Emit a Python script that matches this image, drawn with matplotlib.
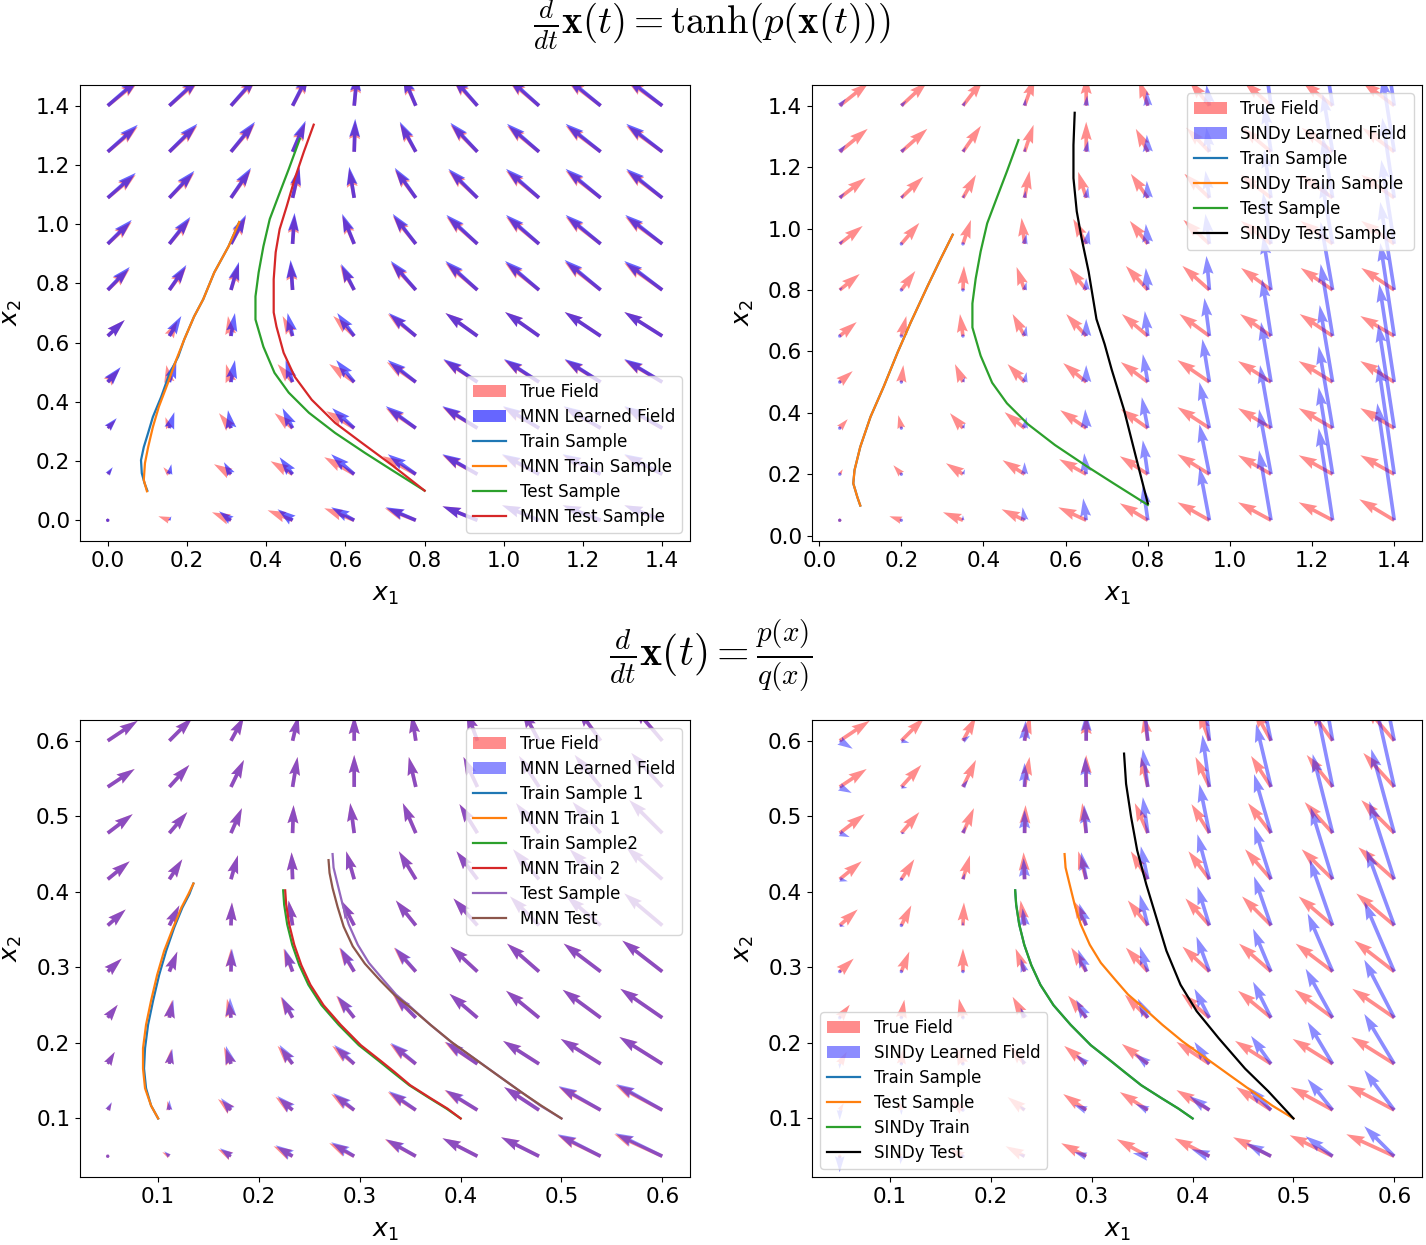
import numpy as np
import matplotlib
matplotlib.use("Agg")
import matplotlib.pyplot as plt

# ---------------- grids ----------------
TL_X = np.linspace(0.0, 1.4, 10)
TL_Y = np.linspace(1.4, 0.0, 10)
TR_X = np.linspace(0.05, 1.4, 10)
TR_Y = np.linspace(1.4, 0.05, 10)
B_X = np.linspace(0.05, 0.6, 10)
B_Y = np.linspace(0.6, 0.05, 10)

# ---------------- vector fields (u, v), rows top -> bottom, arbitrary units ----------------
TANH_TRUE_A = [
    [(31, 25), (30, 26), (26, 28), (16, 30), (3, 31), (-13, 29), (-25, 27), (-31, 26), (-34, 26), (-36, 26)],
    [(30, 25), (28, 26), (24, 28), (13, 29), (1, 31), (-16, 28), (-27, 27), (-32, 26), (-35, 26), (-36, 26)],
    [(28, 23), (25, 25), (20, 28), (7, 29), (-5, 29), (-21, 28), (-29, 27), (-33, 27), (-35, 27), (-36, 27)],
    [(24, 22), (21, 25), (15, 27), (2, 29), (-12, 28), (-23, 28), (-31, 27), (-33, 27), (-35, 27), (-37, 27)],
    [(22, 21), (17, 23), (8, 26), (-2, 28), (-14, 25), (-25, 27), (-32, 27), (-34, 27), (-36, 28), (-38, 27)],
    [(17, 16), (8, 15), (-3, 20), (-10, 20), (-21, 20), (-28, 22), (-32, 23), (-34, 24), (-36, 24), (-38, 24)],
    [(12, 13), (-3, 17), (-5, 18), (-15, 18), (-25, 18), (-29, 20), (-34, 22), (-35, 22), (-36, 22), (-38, 22)],
    [(8, 8), (-4, 11), (-12, 15), (-18, 15), (-28, 17), (-30, 20), (-35, 21), (-36, 21), (-37, 21), (-38, 21)],
    [(4, 5), (-6, 7), (-17, 10), (-22, 13), (-30, 17), (-33, 18), (-35, 19), (-37, 19), (-38, 19), (-38, 19)],
    [(1, 0.5), (-11, 4), (-19, 8), (-25, 10), (-30, 12), (-31, 12), (-35, 14), (-37, 15), (-38, 15), (-38, 15)],
]
MNN_A = [
    [(31, 27), (30, 28), (26, 30), (16, 32), (3, 33), (-13, 31), (-25, 29), (-31, 28), (-34, 28), (-36, 28)],
    [(30, 27), (28, 28), (24, 30), (13, 31), (1, 33), (-16, 30), (-27, 29), (-32, 28), (-35, 28), (-36, 28)],
    [(28, 25), (25, 27), (20, 30), (7, 31), (-5, 31), (-21, 30), (-29, 29), (-33, 29), (-35, 29), (-36, 29)],
    [(24, 24), (21, 27), (15, 29), (2, 31), (-12, 30), (-23, 30), (-31, 29), (-33, 29), (-35, 29), (-37, 29)],
    [(22, 23), (17, 25), (8, 28), (-2, 30), (-13, 26), (-25, 29), (-32, 29), (-34, 29), (-36, 30), (-38, 29)],
    [(17, 16), (12, 20), (4, 23), (-5, 23), (-17, 23), (-27, 23), (-32, 23), (-34, 24), (-36, 24), (-38, 24)],
    [(13, 15), (7, 22), (4, 22), (-7, 22), (-18, 22), (-28, 22), (-34, 23), (-35, 23), (-36, 23), (-38, 23)],
    [(9, 10), (5, 16), (-3, 18), (-10, 20), (-22, 20), (-30, 22), (-35, 22), (-36, 22), (-37, 22), (-38, 22)],
    [(5, 7), (2, 10), (-7, 12), (-13, 17), (-23, 20), (-28, 20), (-35, 20), (-37, 20), (-38, 20), (-38, 20)],
    [(1.5, 1), (2, 4), (-12, 9), (-15, 11), (-23, 13), (-30, 13), (-35, 14), (-37, 15), (-38, 15), (-38, 15)],
]
TANH_TRUE_B = [
    [(29, 23), (26, 24), (20, 26), (10, 28), (0, 30), (-9, 26), (-20, 25), (-27, 24), (-30, 24), (-32, 24)],
    [(28, 23), (26, 23), (18, 26), (9, 27), (0, 30), (-12, 23), (-23, 24), (-29, 24), (-31, 24), (-32, 24)],
    [(26, 20), (22, 21), (13, 23), (5, 27), (-8, 26), (-17, 24), (-25, 24), (-30, 23), (-32, 23), (-33, 23)],
    [(23, 18), (18, 21), (8, 24), (-3, 26), (-13, 25), (-18, 23), (-26, 24), (-30, 23), (-32, 23), (-33, 23)],
    [(20, 16), (14, 19), (1, 24), (-8, 23), (-17, 22), (-22, 24), (-27, 24), (-30, 22), (-32, 22), (-33, 22)],
    [(17, 14), (5, 20), (-3, 22), (-12, 22), (-20, 22), (-26, 22), (-30, 22), (-31, 22), (-33, 22), (-34, 20)],
    [(13, 11), (2, 17), (-8, 18), (-17, 18), (-23, 19), (-27, 20), (-32, 22), (-33, 21), (-34, 21), (-34, 21)],
    [(8, 9), (-3, 13), (-13, 15), (-20, 16), (-26, 18), (-27, 19), (-32, 21), (-33, 20), (-34, 20), (-34, 20)],
    [(3, 5), (-8, 9), (-17, 11), (-22, 14), (-27, 15), (-28, 18), (-32, 20), (-33, 19), (-34, 19), (-34, 19)],
    [(0.5, 0.5), (-12, 4), (-20, 8), (-23, 11), (-28, 13), (-28, 17), (-32, 18), (-33, 18), (-34, 18), (-35, 21)],
]
SINDY_A = [
    [(6, 7), (5, 5), (3, 5), (1, 7), (1, 10), (-1, 15), (-3, 21), (-6, 44), (-9, 55), (-11, 73)],
    [(6, 7), (5, 5), (3, 5), (1, 5), (2, 11), (-1, 17), (-3, 24), (-7, 46), (-10, 58), (-12, 76)],
    [(5, 5), (3, 4), (2, 4), (1, 7), (2, 11), (-1, 17), (-4, 27), (-7, 48), (-10, 61), (-12, 80)],
    [(4, 4), (2, 3), (1, 3), (2, 10), (3, 14), (-2, 20), (-4, 30), (-8, 51), (-11, 64), (-13, 84)],
    [(3, 3), (2, 2), (1, 3), (2, 8), (0, 12), (-2, 22), (-3, 34), (-8, 54), (-12, 68), (-14, 88)],
    [(1, 1), (1, 1), (1, 3), (2, 10), (0, 17), (-3, 25), (-5, 38), (-9, 57), (-12, 72), (-14, 93)],
    [(1, 1), (0.5, 0.5), (2, 5), (2, 10), (0, 17), (-5, 28), (-7, 43), (-10, 60), (-13, 77), (-15, 98)],
    [(0.5, 0.5), (0.5, 0.5), (2, 5), (2, 11), (-1, 19), (-6, 31), (-10, 46), (-11, 63), (-14, 82), (-16, 104)],
    [(0.5, 0.5), (0.3, 0.3), (2, 5), (0, 12), (-2, 21), (-5, 34), (-10, 50), (-12, 65), (-14, 87), (-16, 110)],
    [(0.3, 0.3), (0.2, 0.2), (0, 5), (-2, 13), (-3, 22), (-5, 35), (-10, 53), (-12, 70), (-14, 92), (-17, 117)],
]
RATIO_TRUE = [
    [(30, 20), (23, 23), (13, 24), (6, 25), (0, 25), (-4, 26), (-11, 30), (-17, 31), (-23, 32), (-29, 34)],
    [(27, 18), (20, 22), (13, 27), (5, 30), (0, 32), (-7, 30), (-14, 30), (-20, 31), (-26, 32), (-31, 34)],
    [(25, 19), (18, 21), (11, 25), (1, 28), (-4, 30), (-13, 30), (-18, 29), (-23, 30), (-28, 31), (-33, 33)],
    [(22, 18), (13, 20), (7, 24), (-1, 27), (-8, 28), (-17, 28), (-21, 28), (-26, 30), (-31, 30), (-36, 32)],
    [(18, 16), (10, 20), (1, 23), (-4, 25), (-13, 25), (-20, 25), (-24, 27), (-29, 29), (-34, 29), (-38, 32)],
    [(14, 13), (8, 20), (0, 23), (-9, 23), (-15, 24), (-22, 24), (-27, 25), (-32, 28), (-37, 28), (-40, 31)],
    [(10, 13), (3, 18), (-4, 19), (-12, 21), (-18, 22), (-23, 23), (-28, 24), (-33, 27), (-38, 28), (-42, 29)],
    [(7, 12), (2, 15), (-7, 17), (-15, 18), (-22, 18), (-26, 20), (-33, 22), (-36, 23), (-40, 25), (-43, 27)],
    [(4, 7), (-2, 9), (-13, 11), (-17, 13), (-23, 16), (-28, 18), (-33, 20), (-35, 23), (-42, 23), (-47, 25)],
    [(1, 2), (-7, 4), (-13, 7), (-19, 10), (-25, 13), (-31, 17), (-35, 18), (-38, 19), (-43, 21), (-48, 22)],
]
MNN_B = [
    [(30, 20), (23, 23), (13, 24), (6, 25), (0, 25), (-4, 26), (-11, 30), (-17, 31), (-23, 32), (-29, 34)],
    [(27, 18), (20, 22), (13, 27), (5, 30), (0, 32), (-7, 30), (-14, 30), (-20, 31), (-26, 32), (-31, 34)],
    [(25, 19), (18, 21), (11, 25), (1, 28), (-4, 30), (-13, 30), (-18, 29), (-23, 30), (-28, 31), (-33, 33)],
    [(22, 18), (13, 20), (7, 24), (-1, 27), (-8, 28), (-17, 28), (-21, 28), (-26, 30), (-31, 30), (-36, 32)],
    [(18, 16), (10, 20), (1, 23), (-4, 25), (-13, 25), (-20, 25), (-24, 27), (-29, 29), (-34, 29), (-38, 32)],
    [(14, 13), (8, 20), (1, 23), (-8, 23), (-14, 24), (-21, 24), (-27, 25), (-32, 28), (-37, 28), (-40, 31)],
    [(10, 13), (4, 18), (-1, 20), (-11, 21), (-17, 22), (-22, 23), (-28, 24), (-33, 27), (-38, 28), (-42, 29)],
    [(7, 12), (3, 15), (-5, 18), (-13, 19), (-20, 19), (-25, 21), (-32, 22), (-36, 23), (-40, 25), (-43, 27)],
    [(4, 8), (0, 10), (-10, 12), (-15, 14), (-21, 17), (-27, 19), (-32, 20), (-35, 23), (-42, 24), (-46, 26)],
    [(2, 3), (-5, 5), (-11, 8), (-17, 11), (-23, 14), (-30, 17), (-35, 18), (-38, 19), (-43, 22), (-47, 23)],
]
SINDY_B = [
    [(13, -8), (8, -2), (7, 5), (1, 20), (0, 28), (-4, 40), (-6, 54), (-14, 66), (-15, 85), (-18, 90)],
    [(12, -6), (6, -1), (5, 7), (0, 24), (-1, 30), (-5, 38), (-7, 52), (-15, 63), (-17, 82), (-20, 88)],
    [(10, -4), (4, 0), (3, 7), (0, 23), (-2, 28), (-5, 36), (-10, 49), (-17, 59), (-20, 79), (-23, 84)],
    [(8, -2), (3, 1), (2, 6), (-1, 21), (-5, 27), (-7, 33), (-12, 45), (-17, 53), (-22, 72), (-25, 78)],
    [(5, -1), (1, 0.5), (0, 4), (-2, 17), (-7, 22), (-8, 31), (-12, 39), (-17, 49), (-23, 66), (-28, 76)],
    [(2, 0), (1, 0.5), (-1, 3), (-4, 13), (-8, 22), (-8, 25), (-13, 35), (-18, 43), (-25, 58), (-30, 70)],
    [(1, -2), (0.5, -1), (-1, 2), (-4, 10), (-10, 18), (-10, 19), (-15, 29), (-18, 36), (-27, 49), (-30, 58)],
    [(0, -5), (0, -3), (-1, 1), (-4, 7), (-10, 9), (-13, 10), (-15, 22), (-20, 28), (-25, 42), (-30, 50)],
    [(0, -10), (0, -5), (-2, 0), (-5, 4), (-12, 5), (-12, 6), (-20, 14), (-23, 23), (-25, 31), (-30, 40)],
    [(0, -16), (-1, -8), (-2, -1), (-6, 2), (-12, 4), (-15, 3), (-18, 7), (-25, 13), (-27, 20), (-30, 30)],
]

# ---------------- trajectories (x1, x2) ----------------
TANH_TRAIN = [(0.100, 0.100), (0.093, 0.125), (0.086, 0.159), (0.084, 0.203), (0.091, 0.247), (0.102, 0.295),
              (0.114, 0.349), (0.135, 0.417), (0.155, 0.492), (0.178, 0.553), (0.193, 0.610), (0.218, 0.688),
              (0.241, 0.746), (0.269, 0.837), (0.305, 0.925), (0.332, 1.007)]
TANH_MNN_TRAIN = [(0.099, 0.098), (0.091, 0.136), (0.094, 0.193), (0.102, 0.247), (0.114, 0.315), (0.129, 0.383),
                  (0.152, 0.464), (0.173, 0.542), (0.193, 0.610), (0.218, 0.688), (0.241, 0.746), (0.269, 0.837),
                  (0.305, 0.925), (0.332, 1.007)]
TANH_TEST = [(0.485, 1.288), (0.457, 1.186), (0.431, 1.095), (0.409, 1.017), (0.393, 0.925), (0.381, 0.837),
             (0.373, 0.756), (0.373, 0.678), (0.393, 0.586), (0.421, 0.498), (0.457, 0.431), (0.508, 0.363),
             (0.574, 0.295), (0.650, 0.227), (0.718, 0.169), (0.800, 0.100)]
TANH_MNN_TEST = [(0.520, 1.336), (0.495, 1.244), (0.472, 1.153), (0.452, 1.061), (0.434, 0.983), (0.424, 0.905),
                 (0.419, 0.814), (0.419, 0.702), (0.426, 0.654), (0.444, 0.566), (0.472, 0.485), (0.515, 0.407),
                 (0.574, 0.329), (0.642, 0.261), (0.718, 0.186), (0.800, 0.100)]
TANH_SINDY_TRAIN = [(0.325, 0.980), (0.296, 0.902), (0.264, 0.813), (0.230, 0.715), (0.223, 0.695), (0.191, 0.597),
                    (0.157, 0.485), (0.125, 0.387), (0.100, 0.289), (0.086, 0.213), (0.083, 0.170), (0.093, 0.125),
                    (0.100, 0.098)]
TANH_SINDY_TEST = [(0.622, 1.377), (0.619, 1.272), (0.619, 1.164), (0.627, 1.056), (0.639, 0.967), (0.656, 0.859),
                   (0.675, 0.705), (0.695, 0.623), (0.712, 0.541), (0.742, 0.410), (0.773, 0.246), (0.800, 0.105)]

RATIO_TRAIN1 = [(0.100, 0.100), (0.093, 0.117), (0.088, 0.140), (0.086, 0.166), (0.087, 0.193), (0.090, 0.224),
                (0.095, 0.256), (0.101, 0.290), (0.108, 0.322), (0.116, 0.353), (0.124, 0.379), (0.131, 0.397),
                (0.135, 0.411)]
RATIO_MNN_TRAIN1 = [(0.100, 0.100), (0.093, 0.117), (0.087, 0.140), (0.085, 0.166), (0.085, 0.193), (0.088, 0.224),
                    (0.093, 0.256), (0.099, 0.290), (0.106, 0.322), (0.115, 0.353), (0.123, 0.379), (0.130, 0.397),
                    (0.135, 0.411)]
RATIO_TRAIN2 = [(0.224, 0.402), (0.225, 0.383), (0.228, 0.357), (0.233, 0.330), (0.240, 0.303), (0.249, 0.277),
                (0.262, 0.250), (0.279, 0.224), (0.299, 0.197), (0.319, 0.176), (0.332, 0.162), (0.349, 0.144),
                (0.369, 0.127), (0.386, 0.113), (0.400, 0.100)]
RATIO_MNN_TRAIN2 = [(0.226, 0.402), (0.227, 0.383), (0.230, 0.357), (0.235, 0.330), (0.242, 0.303), (0.251, 0.277),
                    (0.264, 0.250), (0.281, 0.224), (0.301, 0.197), (0.321, 0.176), (0.334, 0.162), (0.350, 0.144),
                    (0.370, 0.127), (0.387, 0.113), (0.400, 0.100)]
RATIO_TEST = [(0.273, 0.450), (0.274, 0.432), (0.278, 0.410), (0.283, 0.383), (0.289, 0.357), (0.298, 0.330),
              (0.309, 0.306), (0.323, 0.284), (0.336, 0.264), (0.350, 0.248), (0.370, 0.224), (0.390, 0.202),
              (0.413, 0.180), (0.437, 0.157), (0.459, 0.136), (0.479, 0.117), (0.500, 0.100)]
RATIO_MNN_TEST = [(0.269, 0.442), (0.270, 0.425), (0.273, 0.405), (0.278, 0.380), (0.284, 0.354), (0.293, 0.328),
                  (0.305, 0.305), (0.320, 0.283), (0.334, 0.264), (0.350, 0.247), (0.371, 0.223), (0.392, 0.200),
                  (0.415, 0.178), (0.439, 0.155), (0.460, 0.135), (0.480, 0.117), (0.500, 0.100)]
RATIO_SINDY_TRAIN = RATIO_TRAIN2
RATIO_SINDY_TEST = [(0.332, 0.583), (0.334, 0.543), (0.339, 0.499), (0.345, 0.455), (0.354, 0.410), (0.364, 0.366),
                    (0.374, 0.322), (0.388, 0.277), (0.404, 0.242), (0.426, 0.206), (0.452, 0.166), (0.475, 0.136),
                    (0.500, 0.100)]

TAB = plt.rcParams["axes.prop_cycle"].by_key()["color"]

fig = plt.figure(figsize=(14.26, 12.45), dpi=100)
W, H = 1426, 1245


def add_axes(l, t, r, b):
    return fig.add_axes([l / W, 1 - b / H, (r - l) / W, (b - t) / H])


def field(ax, xs, ys, data, color, alpha, label):
    a = np.array(data, dtype=float)
    X, Y = np.meshgrid(xs, ys)
    ax.quiver(X, Y, a[..., 0], a[..., 1], color=color, alpha=alpha, angles="uv",
              scale_units="dots", scale=1, label=label)


def line(ax, pts, color, label):
    p = np.array(pts)
    ax.plot(p[:, 0], p[:, 1], color=color, lw=1.6, label=label)


def style(ax, lim):
    ax.set_xlim(*lim)
    ax.set_ylim(*lim)
    ax.tick_params(labelsize=15.5)
    ax.set_xlabel("$x_1$", fontsize=18, labelpad=9)
    ax.set_ylabel("$x_2$", fontsize=18, labelpad=9)


ax1 = add_axes(80, 85, 690, 541)
field(ax1, TL_X, TL_Y, TANH_TRUE_A, "red", 0.45, "True Field")
field(ax1, TL_X, TL_Y, MNN_A, "blue", 0.6, "MNN Learned Field")
line(ax1, TANH_TRAIN, TAB[0], "Train Sample")
line(ax1, TANH_MNN_TRAIN, TAB[1], "MNN Train Sample")
line(ax1, TANH_TEST, TAB[2], "Test Sample")
line(ax1, TANH_MNN_TEST, TAB[3], "MNN Test Sample")
style(ax1, (-0.07, 1.47))
ax1.legend(loc="lower right", fontsize=12, labelspacing=0.42)

ax2 = add_axes(812, 85, 1422, 541)
field(ax2, TR_X, TR_Y, TANH_TRUE_B, "red", 0.45, "True Field")
field(ax2, TR_X, TR_Y, SINDY_A, "blue", 0.45, "SINDy Learned Field")
line(ax2, TANH_SINDY_TRAIN, TAB[0], "Train Sample")
line(ax2, TANH_SINDY_TRAIN, TAB[1], "SINDy Train Sample")
line(ax2, TANH_TEST, TAB[2], "Test Sample")
line(ax2, TANH_SINDY_TEST, "black", "SINDy Test Sample")
style(ax2, (-0.0175, 1.4675))
ax2.legend(loc="upper right", fontsize=12, labelspacing=0.42)

ax3 = add_axes(80, 720, 690, 1177)
field(ax3, B_X, B_Y, RATIO_TRUE, "red", 0.45, "True Field")
field(ax3, B_X, B_Y, MNN_B, "blue", 0.45, "MNN Learned Field")
line(ax3, RATIO_TRAIN1, TAB[0], "Train Sample 1")
line(ax3, RATIO_MNN_TRAIN1, TAB[1], "MNN Train 1")
line(ax3, RATIO_TRAIN2, TAB[2], "Train Sample2")
line(ax3, RATIO_MNN_TRAIN2, TAB[3], "MNN Train 2")
line(ax3, RATIO_TEST, TAB[4], "Test Sample")
line(ax3, RATIO_MNN_TEST, TAB[5], "MNN Test")
style(ax3, (0.0225, 0.6275))
ax3.legend(loc="upper right", fontsize=12, labelspacing=0.42)

ax4 = add_axes(812, 720, 1422, 1177)
field(ax4, B_X, B_Y, RATIO_TRUE, "red", 0.45, "True Field")
field(ax4, B_X, B_Y, SINDY_B, "blue", 0.45, "SINDy Learned Field")
line(ax4, RATIO_TRAIN2, TAB[0], "Train Sample")
line(ax4, RATIO_TEST, TAB[1], "Test Sample")
line(ax4, RATIO_SINDY_TRAIN, TAB[2], "SINDy Train")
line(ax4, RATIO_SINDY_TEST, "black", "SINDy Test")
style(ax4, (0.0225, 0.6275))
ax4.legend(loc="lower left", fontsize=12, labelspacing=0.42)

fig.text(0.499, 1 - 25 / H, r"$\frac{d}{dt}\mathbf{x}(t) = \tanh(p(\mathbf{x}(t)))$",
         ha="center", va="center", fontsize=28, math_fontfamily="cm")
fig.text(0.498, 1 - 655 / H, r"$\frac{d}{dt}\mathbf{x}(t) = \frac{p(x)}{q(x)}$",
         ha="center", va="center", fontsize=30, math_fontfamily="cm")

fig.savefig("out.png", dpi=100)
